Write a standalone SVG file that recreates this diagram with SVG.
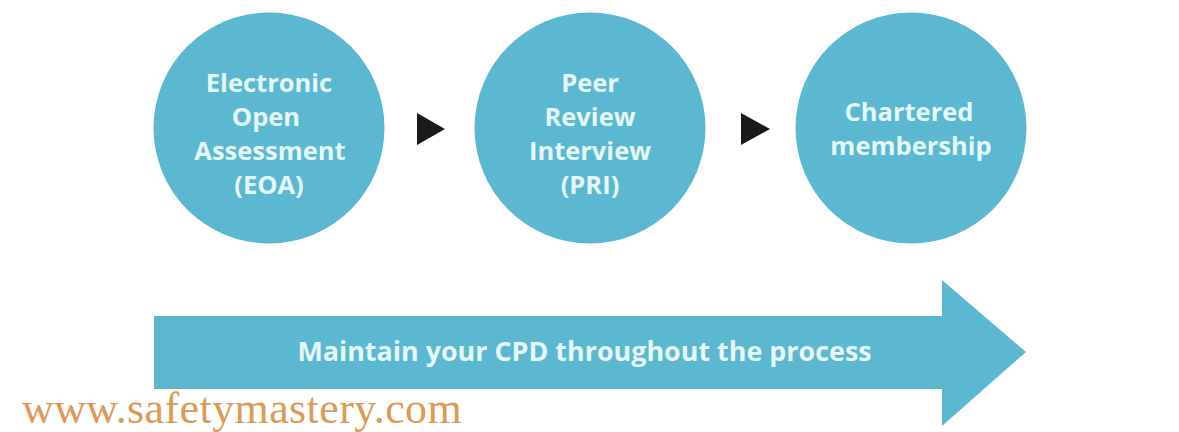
<svg xmlns="http://www.w3.org/2000/svg" width="1179" height="432" viewBox="0 0 1179 432">
<style>
.c{fill:#5cb8d0}
.t{font-family:"Open Sans","Noto Sans",sans-serif;font-weight:700;font-size:25.500px;fill:#e4f7f9;text-anchor:middle}
.a{fill:#1a1a1a}
</style>
<rect width="1179" height="432" fill="#fff"/>
<g id="node-eoa"><circle class="c" cx="269" cy="128" r="115.500"/>
<text class="t" x="269" y="92">Electronic</text><text class="t" x="266" y="126">Open</text><text class="t" x="270" y="160">Assessment</text><text class="t" x="269" y="194">(EOA)</text></g>
<g id="node-pri"><circle class="c" cx="590" cy="128" r="115.500"/>
<text class="t" x="590" y="92">Peer</text><text class="t" x="590" y="126">Review</text><text class="t" x="590" y="160">Interview</text><text class="t" x="590" y="194">(PRI)</text></g>
<g id="node-chartered"><circle class="c" cx="911" cy="128" r="115.500"/>
<text class="t" x="909" y="121">Chartered</text><text class="t" x="911" y="155">membership</text></g>
<g id="connectors"><polygon class="a" points="417,113 445,129 417,145"/><polygon class="a" points="741,113 770,129 741,145"/></g>
<g id="node-cpd"><polygon class="c" points="154,316 942,316 942,280 1026,352 942,426 942,389 154,389"/>
<text class="t" style="font-size:26.900px" x="584.500" y="361">Maintain your CPD throughout the process</text></g>
<text x="22" y="423" font-family="'Liberation Serif',serif" font-size="44" letter-spacing="0.4" fill="#dd9a55">www.safetymastery.com</text>
</svg>
